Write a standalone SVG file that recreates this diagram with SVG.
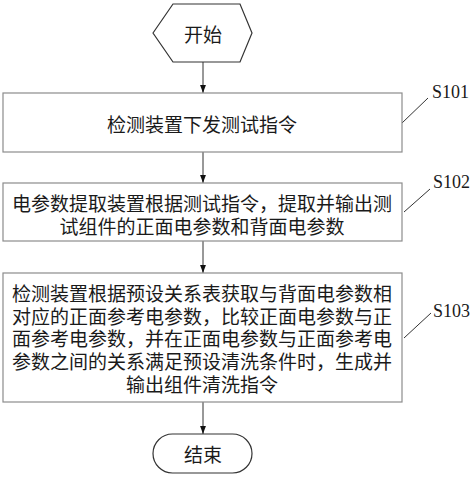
<svg xmlns="http://www.w3.org/2000/svg" width="474" height="477" viewBox="0 0 474 477">
<defs>
<style>
.box{fill:#fff;stroke:#8c8c8c;stroke-width:1.2}
.term{fill:#fff;stroke:#333;stroke-width:1.2}
.t{font-family:"Noto Sans CJK SC","Liberation Serif",serif;font-size:19px;fill:#1a1a1a;text-anchor:middle;dominant-baseline:central}
.lbl{font-family:"Liberation Serif",serif;font-size:18px;fill:#1a1a1a}
.ln{stroke:#333;stroke-width:1;fill:none}
</style>
<marker id="arr" markerWidth="8" markerHeight="11" refX="11" refY="4" orient="auto" markerUnits="userSpaceOnUse" viewBox="0 0 11 8">
<path d="M0,0 L11,4 L0,8 Z" fill="#111"/>
</marker>
</defs>
<g id="connectors">
<line class="ln" x1="203" y1="62" x2="203" y2="93" marker-end="url(#arr)"/>
<line class="ln" x1="203" y1="152" x2="203" y2="183" marker-end="url(#arr)"/>
<line class="ln" x1="203" y1="241" x2="203" y2="273" marker-end="url(#arr)"/>
<line class="ln" x1="203" y1="402" x2="203" y2="434" marker-end="url(#arr)"/>
<line class="ln" x1="402" y1="123" x2="428" y2="98"/>
<line class="ln" x1="404" y1="212" x2="430" y2="189"/>
<line class="ln" x1="404" y1="338" x2="431" y2="313"/>
</g>
<g id="start">
<polygon class="term" points="153,33 173,4 240,4 252,33 240,62 173,62"/>
<text class="t" x="203" y="33">开始</text>
</g>
<g id="s101">
<rect class="box" x="3" y="93" width="399" height="59"/>
<text class="t" x="202" y="123">检测装置下发测试指令</text>
<text class="lbl" x="432" y="98">S101</text>
</g>
<g id="s102">
<rect class="box" x="3" y="183" width="399" height="58"/>
<text class="t" x="202" y="202">电参数提取装置根据测试指令，提取并输出测</text>
<text class="t" x="202" y="225">试组件的正面电参数和背面电参数</text>
<text class="lbl" x="433" y="188">S102</text>
</g>
<g id="s103">
<rect class="box" x="3" y="273" width="399" height="129"/>
<text class="t" x="202" y="292">检测装置根据预设关系表获取与背面电参数相</text>
<text class="t" x="202" y="315">对应的正面参考电参数，比较正面电参数与正</text>
<text class="t" x="202" y="337">面参考电参数，并在正面电参数与正面参考电</text>
<text class="t" x="202" y="360">参数之间的关系满足预设清洗条件时，生成并</text>
<text class="t" x="202" y="383">输出组件清洗指令</text>
<text class="lbl" x="433" y="317">S103</text>
</g>
<g id="end">
<rect class="term" x="153" y="434" width="99" height="39" rx="19.5" ry="19.5"/>
<text class="t" x="203" y="453">结束</text>
</g>
</svg>
